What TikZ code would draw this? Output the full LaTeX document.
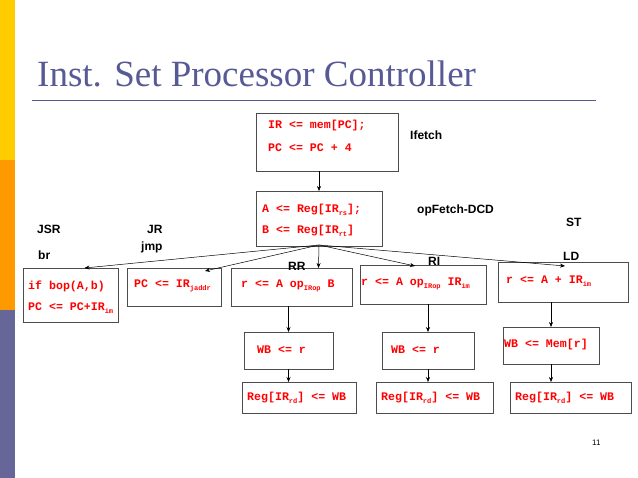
\documentclass[tikz,border=0pt]{standalone}
\usepackage{fontspec}
\setmainfont{Liberation Serif}
\newfontfamily\codefont{Liberation Mono}
\newfontfamily\labfont{Liberation Sans}
\usetikzlibrary{arrows.meta}
\definecolor{titleblue}{RGB}{88,90,150}
\definecolor{barY}{RGB}{255,204,0}
\definecolor{barO}{RGB}{255,153,0}
\definecolor{barB}{RGB}{102,102,153}
\newcommand{\lowtxt}[1]{\raisebox{-0.45ex}{\fontsize{7}{8}\selectfont #1}}
\begin{document}
\begin{tikzpicture}[x=1pt,y=-1pt,
  box/.style={draw=black!70,line width=0.6pt,fill=white,anchor=north west,
    inner sep=0pt,outer sep=0pt},
  code/.style={anchor=west,inner sep=0pt,text=red,
    font=\codefont\bfseries\fontsize{11.6}{13}\selectfont},
  lab/.style={anchor=west,inner sep=0pt,font=\labfont\bfseries\fontsize{12}{14}\selectfont},
  arr/.style={-{Stealth[length=5pt,width=4pt]},line width=0.5pt}]
\useasboundingbox (0,0) rectangle (638,478);
% side bar
\fill[barY] (0,0) rectangle (15,160);
\fill[barO] (0,160) rectangle (15,310);
\fill[barB] (0,310) rectangle (15,478);
% title
\node[anchor=base west,inner sep=0pt,text=titleblue,font=\fontsize{37}{40}\selectfont]
  (title) at (37,87) {Inst. Set Processor Controller};
\draw[titleblue,line width=1pt] (32,101) -- (596,101);
% boxes
\node[box,minimum width=142pt,minimum height=58pt] (fetch) at (256,113) {};
\node[code] at (268,126) {IR <= mem[PC];};
\node[code] at (268,148) {PC <= PC + 4};
\node[box,minimum width=126pt,minimum height=55pt] (dcd) at (256,191) {};
\node[code] at (262,210) {A <= Reg[IR\lowtxt{rs}];};
\node[code] at (262,231) {B <= Reg[IR\lowtxt{rt}]};
\node[box,minimum width=95pt,minimum height=54pt] (br) at (23,268) {};
\node[code] at (28,286) {if bop(A,b)};
\node[code] at (28,308) {PC <= PC+IR\lowtxt{im}};
\node[box,minimum width=94pt,minimum height=38pt] (jr) at (127,268) {};
\node[code] at (134,286) {PC <= IR\lowtxt{jaddr}};
\node[box,minimum width=121pt,minimum height=38pt] (rr) at (231,268) {};
\node[code] at (241,286) {r <= A op\lowtxt{IRop} B};
\node[box,minimum width=126pt,minimum height=39pt] (ri) at (360,265) {};
\node[code] at (361,284) {r <= A op\lowtxt{IRop} IR\lowtxt{im}};
\node[box,minimum width=130pt,minimum height=40pt] (ld) at (498,262) {};
\node[code] at (506,281) {r <= A + IR\lowtxt{im}};
\node[box,minimum width=89pt,minimum height=37pt] (wb1) at (244,332) {};
\node[code] at (257,350) {WB <= r};
\node[box,minimum width=92pt,minimum height=37pt] (wb2) at (382,332) {};
\node[code] at (391,350) {WB <= r};
\node[box,minimum width=96pt,minimum height=37pt] (wb3) at (503,327) {};
\node[code] at (504,345) {WB <= Mem[r]};
\node[box,minimum width=114pt,minimum height=31pt] (rg1) at (242,382) {};
\node[code] at (247,398) {Reg[IR\lowtxt{rd}] <= WB};
\node[box,minimum width=117pt,minimum height=31pt] (rg2) at (376,382) {};
\node[code] at (381,398) {Reg[IR\lowtxt{rd}] <= WB};
\node[box,minimum width=121pt,minimum height=31pt] (rg3) at (510,382) {};
\node[code] at (515,398) {Reg[IR\lowtxt{rd}] <= WB};
% labels
\node[lab] at (410,135) {Ifetch};
\node[lab] at (417,210) {opFetch-DCD};
\node[lab] at (37,229) {JSR};
\node[lab] at (147,229) {JR};
\node[lab] at (566,222) {ST};
\node[lab] at (38,255) {br};
\node[lab] at (141,247) {jmp};
\node[lab] at (563,256) {LD};
\node[lab] at (288,266) {RR};
\node[lab] at (428,261) {RI};
\node[anchor=west,inner sep=0pt,font=\labfont\fontsize{8}{9}\selectfont] at (592,443) {11};
% connectors
\coordinate (fan) at ([yshift=1pt]dcd.south);
\draw[arr] (fetch.south -| fan) -- (dcd.north -| fan);
\draw[arr] (fan) -- ([xshift=14pt]br.north);
\draw[arr] (fan) -- ([xshift=31pt,yshift=-3pt]jr.north);
\draw[arr] (fan) -- ([xshift=27pt]rr.north);
\draw[arr] (fan) -- ([xshift=-8pt,yshift=-1pt]ri.north);
\draw[arr] (fan) -- ([xshift=2pt,yshift=-4pt]ld.north);
\draw[arr] (rr.south -| wb1.north) -- (wb1.north);
\draw[arr] (wb1.south) -- (wb1.south |- rg1.north);
\draw[arr] (ri.south -| wb2.north) -- (wb2.north);
\draw[arr] (wb2.south) -- (wb2.south |- rg2.north);
\draw[arr] (ld.south -| wb3.north) -- (wb3.north);
\draw[arr] (wb3.south) -- (wb3.south |- rg3.north);
\end{tikzpicture}
\end{document}
